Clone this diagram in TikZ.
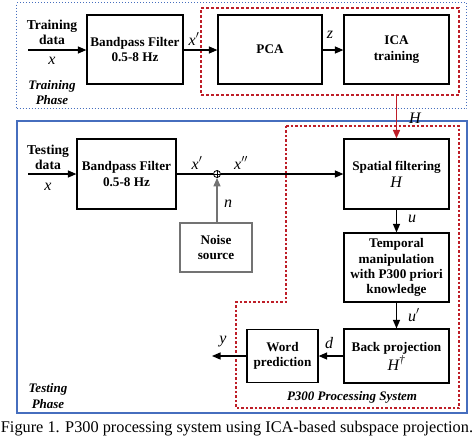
\documentclass[tikz,border=0pt]{standalone}
\usepackage{fontspec}
\setmainfont{Liberation Serif}
\usetikzlibrary{arrows.meta}
\definecolor{bluedot}{RGB}{70,110,190}
\definecolor{redd}{RGB}{190,30,40}
\definecolor{grayb}{RGB}{115,115,115}
\tikzset{
  blk/.style={draw=black,line width=1.2pt,rectangle,align=center,inner sep=0pt,
    font=\bfseries\fontsize{13.2}{15.2}\selectfont},
  lbl/.style={inner sep=0pt,font=\itshape\fontsize{16}{17}\selectfont},
  txt/.style={inner sep=0pt,align=center,font=\bfseries\fontsize{13.6}{15.2}\selectfont},
  phase/.style={inner sep=0pt,align=center,font=\bfseries\itshape\fontsize{13}{15.5}\selectfont},
  arr/.style={line width=1.2pt,-{Triangle[length=8.5pt,width=7pt]}},
}
\begin{document}
\begin{tikzpicture}[x=1pt,y=-1pt]
\useasboundingbox (0,0) rectangle (474,440);
% phase frames
\node[draw=bluedot,line width=1pt,dotted,minimum width=450pt,minimum height=106pt,inner sep=0pt] (trainframe) at (241.5,55.5) {};
\node[draw=bluedot,line width=1.2pt,minimum width=450pt,minimum height=292pt,inner sep=0pt] (testframe) at (242,267) {};
\node[draw=redd,line width=2pt,dash pattern=on 3pt off 2pt,minimum width=258pt,minimum height=87pt,inner sep=0pt] (redbox) at (330,51.5) {};
\draw[redd,line width=1.3pt,dash pattern=on 2.5pt off 2pt] (286,126) -- (459,126) -- (459,408) -- (236,408) -- (236,302) -- (286,302) -- cycle;
% training phase
\node[txt] (trdata) at (52,32) {Training\\data};
\node[lbl] (trx) at (52,61) {x};
\node[phase] (trphase) at (52,92.5) {Training\\Phase};
\coordinate (trin) at (28,50);
\node[blk,minimum width=96pt,minimum height=69pt] (trbp) at (135,49.5) {Bandpass Filter\\0.5-8 Hz};
\node[blk,minimum width=104pt,minimum height=69pt] (pca) at (270,49.5) {PCA};
\node[blk,minimum width=105pt,minimum height=69pt] (ica) at (396.5,49.5) {ICA\\training};
\draw[arr] (trin) -- (trin -| trbp.west);
\draw[arr] (trbp.east |- trin) -- (pca.west |- trin);
\draw[arr] (pca.east |- trin) -- (ica.west |- trin);
\node[lbl] (trxp) at (194,39) {x$'$};
\node[lbl] (z) at (330,35) {z};
% testing phase
\node[txt] (tedata) at (48,157.5) {Testing\\data};
\node[lbl] (tex) at (48,187) {x};
\node[phase] (tephase) at (48,396) {Testing\\Phase};
\coordinate (tein) at (28,174);
\node[blk,minimum width=99pt,minimum height=70pt] (tebp) at (126.5,174) {Bandpass Filter\\0.5-8 Hz};
\node[draw=black,line width=0.8pt,circle,minimum size=7pt,inner sep=0pt] (sum) at (217,174) {};
\draw[line width=0.8pt] (sum.north) -- (sum.south) (sum.west) -- (sum.east);
\node[blk,draw=grayb,minimum width=72pt,minimum height=49pt] (noise) at (216,247.5) {Noise\\source};
\node[blk,minimum width=105pt,minimum height=70pt] (spatial) at (396.5,174) {Spatial filtering\\[2pt]\textmd{\itshape\fontsize{16}{16}\selectfont H}};
\node[blk,minimum width=105pt,minimum height=69pt] (temporal) at (396.5,267.5) {Temporal\\manipulation\\with P300 priori\\knowledge};
\node[blk,minimum width=105pt,minimum height=54pt] (back) at (396.5,356) {Back projection\\[1pt]\textmd{\itshape\fontsize{16}{16}\selectfont H\textsuperscript{†}}};
\node[blk,minimum width=71pt,minimum height=53pt] (word) at (282.5,356) {Word\\prediction};
\coordinate (yout) at (212,356);
\draw[arr] (tein) -- (tein -| tebp.west);
\draw[line width=1.2pt] (tebp.east |- tein) -- (sum.west);
\draw[arr] (sum.east) -- (spatial.west |- sum);
\draw[line width=1.4pt,grayb,-{Triangle[length=8.5pt,width=7pt]}] (noise.north -| sum) -- (sum.south);
\draw[arr] (spatial.south) -- (temporal.north);
\draw[arr] (temporal.south) -- (back.north);
\draw[arr] (back.west) -- (word.east |- back.west);
\draw[arr] (word.west) -- (yout);
\draw[line width=1.6pt,redd,-{Triangle[length=8.5pt,width=7pt]}] (redbox.south -| spatial.north) -- (spatial.north);
\node[lbl] (texp) at (197,163) {x$'$};
\node[lbl] (texpp) at (241,163) {x$''$};
\node[lbl] (n) at (228,204) {n};
\node[lbl] (H) at (415,118) {H};
\node[lbl] (u) at (412,219) {u};
\node[lbl] (up) at (414,315) {u$'$};
\node[lbl] (d) at (329,343) {d};
\node[lbl] (y) at (223,342) {y};
\node[phase] (p300) at (352,397) {P300 Processing System};
\node[inner sep=0pt,font=\fontsize{16.3}{17}\selectfont] (caption) at (237,428.5) {Figure 1. P300 processing system using ICA-based subspace projection.};
\end{tikzpicture}
\end{document}
